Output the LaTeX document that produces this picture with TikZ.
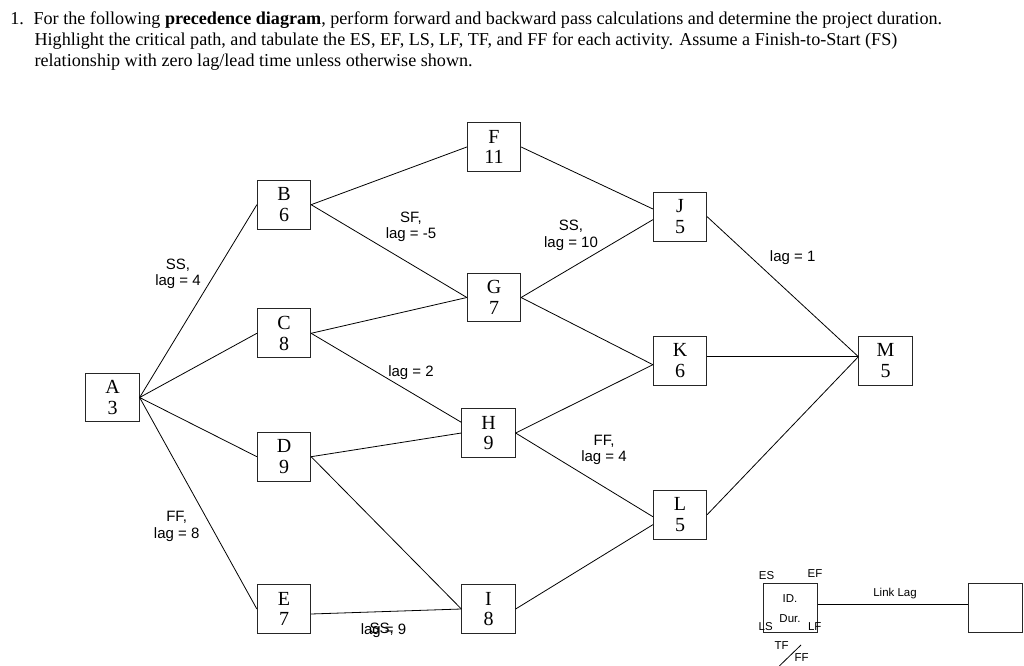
\documentclass[tikz,border=0pt]{standalone}
\usepackage{fontspec}
\setmainfont{Liberation Serif}
\setsansfont{Liberation Sans}

\tikzset{
  act/.style={draw=black!85, line width=0.7pt, minimum width=40pt, minimum height=36.5pt,
    inner sep=0pt, align=center, font=\fontsize{15}{15.5}\selectfont},
  lag/.style={align=center, inner sep=0pt, font=\sffamily\fontsize{11.25}{12.3}\selectfont},
  key/.style={inner sep=0pt, font=\sffamily\fontsize{8.6}{8.6}\selectfont},
  head/.style={anchor=base west, inner sep=0pt, font=\fontsize{13.6}{15.75}\selectfont},
}

\begin{document}
\begin{tikzpicture}[x=0.75pt, y=-0.75pt, every edge/.style={draw, line width=0.6pt}]
  \fill[white] (0,0) rectangle (1024,666);
  \useasboundingbox (0,0) rectangle (1024,666);

  % question text
  \node[head] (num) at (10,25) {1.};
  \node[head] (line1) at (33.3,25) {For the following \textbf{precedence diagram}, perform forward and backward pass calculations and determine the project duration.};
  \node[head] (line2) at (34.3,46) {Highlight the critical path, and tabulate the ES, EF, LS, LF, TF, and FF for each activity. Assume a Finish-to-Start (FS)};
  \node[head] (line3) at (34.3,67) {relationship with zero lag/lead time unless otherwise shown.};

  % activities
  \node[act] (A) at (112.5,397.5) {A\\3};
  \node[act] (B) at (284,204.7) {B\\6};
  \node[act] (C) at (284,333.3) {C\\8};
  \node[act] (D) at (284,456.7) {D\\9};
  \node[act] (E) at (284,609) {E\\7};
  \node[act] (F) at (494,147) {F\\11};
  \node[act] (G) at (494,297.5) {G\\7};
  \node[act] (H) at (488.5,433) {H\\9};
  \node[act] (I) at (488.5,609) {I\\8};
  \node[act] (J) at (680,216.7) {J\\5};
  \node[act] (K) at (680,360.7) {K\\6};
  \node[act] (L) at (680,514.7) {L\\5};
  \node[act] (M) at (885.5,360.7) {M\\5};

  % links
  \path
  (A.east) edge (B.west)
           edge (C.west)
           edge (D.west)
           edge (E.west)
  (B.east) edge (F.west)
           edge (G.west)
  (C.east) edge (G.west)
           edge ([yshift=8pt]H.west)
  (D.east) edge (H.west)
           edge (I.west)
  ([yshift=-3.75pt]E.east) edge (I.west)
  (F.east) edge ([yshift=5.8pt]J.west)
  (G.east) edge ([yshift=-2.25pt]J.west)
           edge ([yshift=-3pt]K.west)
  (H.east) edge ([yshift=-3pt]K.west)
           edge ([yshift=-1.5pt]L.west)
  (I.east) edge ([yshift=-7.5pt]L.west)
  (J.east) edge ([yshift=3pt]M.west)
  ([yshift=3pt]K.east) edge ([yshift=3pt]M.west)
  (L.east) edge ([yshift=3pt]M.west);

  % lag labels
  \node[lag] (ab) at (178,274) {SS,\\lag = 4};
  \node[lag] (bg) at (411,227) {SF,\\lag = -5};
  \node[lag] (ch) at (411,372.3) {lag = 2};
  \node[lag] (gj) at (571,235.5) {SS,\\lag = 10};
  \node[lag] (jm) at (792.7,257.7) {lag = 1};
  \node[lag] (hl) at (604,450) {FF,\\lag = 4};
  \node[lag] (ae) at (176.7,526.5) {FF,\\lag = 8};
  \node[lag] (ei) at (383.5,631) {lag = 9};
  \node[lag] (eiss) at (381.7,629.5) {SS,};

  % legend
  \node[act, minimum width=40.5pt] (key) at (790.3,608) {};
  \node[act, minimum width=40.5pt] (next) at (995.8,608) {};
  \path ([yshift=3pt]key.east) edge ([yshift=3pt]next.west);
  \node[key] (link) at (895,593.7) {Link Lag};
  \node[key] (es) at (766.5,575.5) {ES};
  \node[key] (ef) at (815,573.7) {EF};
  \node[key] (id) at (790,599) {ID.};
  \node[key] (dur) at (790,619) {Dur.};
  \node[key] (ls) at (765.7,627) {LS};
  \node[key] (lf) at (814.7,627) {LF};
  \node[key] (tf) at (781.7,646) {TF};
  \node[key] (ff) at (801.5,658) {FF};
  \coordinate (slashlo) at (779.3,666);
  \coordinate (slashhi) at (801,645);
  \draw[line width=0.6pt] (slashlo) -- (slashhi);
\end{tikzpicture}
\end{document}
